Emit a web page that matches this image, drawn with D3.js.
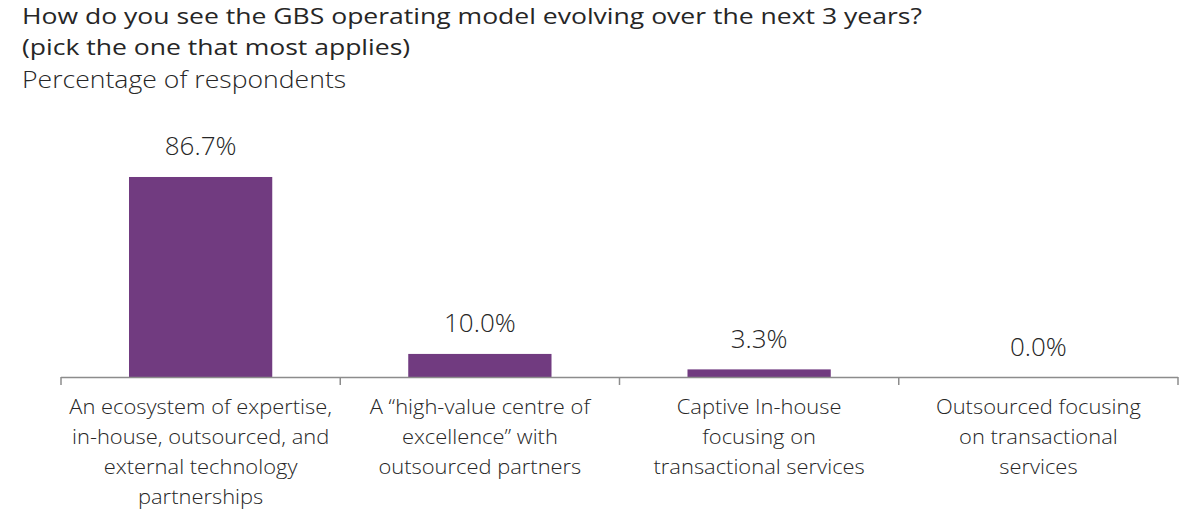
<!DOCTYPE html>
<html>
<head>
<meta charset="utf-8">
<script src="https://cdn.jsdelivr.net/npm/d3@7"></script>
<style>
  html, body { margin: 0; padding: 0; background: #fff; }
  svg { display: block; }
  text { font-family: "Open Sans", "Noto Sans", sans-serif; fill: #262626; }
</style>
</head>
<body>
<svg id="chart" width="1200" height="520"></svg>
<script>
const titleLines = [
  "How do you see the GBS operating model evolving over the next 3 years?",
  "(pick the one that most applies)"
];
const subtitle = "Percentage of respondents";
const categories = [
  ["An ecosystem of expertise,", "in-house, outsourced, and", "external technology", "partnerships"],
  ["A \u201chigh-value centre of", "excellence\u201d with", "outsourced partners"],
  ["Captive In-house", "focusing on", "transactional services"],
  ["Outsourced focusing", "on transactional", "services"]
];
const values = [86.7, 10.0, 3.3, 0.0];
const valueLabels = ["86.7%", "10.0%", "3.3%", "0.0%"];

const svg = d3.select("#chart");
const baseY = 377;

const x = d3.scaleBand()
  .domain(d3.range(categories.length))
  .range([61, 1178])
  .paddingInner(0.487)
  .paddingOuter(0.2435);

const xTicks = d3.scaleBand()
  .domain(d3.range(categories.length))
  .range([61, 1178]);

const y = d3.scaleLinear().domain([0, 100]).range([baseY, baseY - 230.7]);

// title (wide face: horizontally widened)
svg.append("g").selectAll("text").data(titleLines).join("text")
  .attr("transform", (d, i) => `translate(22,${23.5 + i * 31}) scale(1.185,1)`)
  .style("font-size", "22.4px")
  .style("font-weight", 500)
  .text(d => d);

svg.append("text")
  .attr("transform", "translate(22,87.5) scale(1.137,1)")
  .style("font-size", "23.4px")
  .style("font-weight", 300)
  .text(subtitle);

// bars
svg.append("g").selectAll("rect").data(values).join("rect")
  .attr("x", (d, i) => x(i))
  .attr("width", x.bandwidth())
  .attr("y", d => y(d))
  .attr("height", d => baseY - y(d))
  .attr("fill", "#713b80");

// value labels
svg.append("g").selectAll("text").data(values).join("text")
  .attr("x", (d, i) => x(i) + x.bandwidth() / 2)
  .attr("y", d => y(d) - 21.5)
  .attr("text-anchor", "middle")
  .style("font-size", "26px")
  .style("font-weight", 300)
  .text((d, i) => valueLabels[i]);

// axis
const axisG = svg.append("g");
axisG.append("line")
  .attr("x1", xTicks.range()[0]).attr("x2", xTicks.range()[1])
  .attr("y1", baseY + 0.5).attr("y2", baseY + 0.5)
  .attr("stroke", "#8c8c8c").attr("stroke-width", 1.5);
const tickPos = d3.range(categories.length + 1).map(i => i < categories.length ? xTicks(i) : xTicks.range()[1]);
axisG.selectAll("line.tick").data(tickPos).join("line")
  .attr("class", "tick")
  .attr("x1", d => d).attr("x2", d => d)
  .attr("y1", baseY).attr("y2", baseY + 8)
  .attr("stroke", "#8c8c8c").attr("stroke-width", 1.5);

// category labels
const catG = svg.append("g").selectAll("text").data(categories).join("text")
  .attr("transform", (d, i) => `translate(${xTicks(i) + xTicks.bandwidth() / 2},414) scale(1.095,1)`)
  .attr("text-anchor", "middle")
  .style("font-size", "20px")
  .style("font-weight", 300);
catG.selectAll("tspan").data(d => d).join("tspan")
  .attr("x", 0)
  .attr("y", (d, i) => i * 30)
  .text(d => d);
</script>
</body>
</html>
